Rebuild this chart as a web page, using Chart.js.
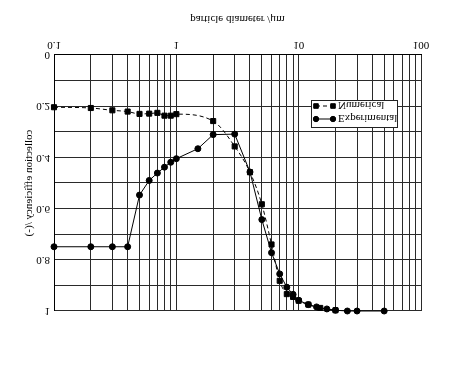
<!DOCTYPE html>
<html><head><meta charset="utf-8">
<script src="https://cdn.jsdelivr.net/npm/chart.js@4.4.0/dist/chart.umd.min.js"></script>
<style>
html,body{margin:0;padding:0;background:#fff;}
#wrap{width:474px;height:366px;overflow:hidden;}
canvas{display:block;transform:scaleY(-1);}
</style></head><body>
<div id="wrap"><canvas id="c" width="474" height="366"></canvas></div>
<script>
// ---- data ----
const numericalDiameters = [0.1, 0.2, 0.3, 0.4, 0.5, 0.6, 0.7, 0.8, 0.9, 1, 2, 3, 4, 5, 6, 7, 8, 9, 10, 12, 15, 20];
const numericalEfficiency = [0.204, 0.207, 0.216, 0.221, 0.23, 0.229, 0.226, 0.237, 0.237, 0.231, 0.258, 0.357, 0.458, 0.583, 0.74, 0.882, 0.934, 0.945, 0.96, 0.975, 0.988, 0.997];
const experimentalDiameters = [0.1, 0.2, 0.3, 0.4, 0.5, 0.6, 0.7, 0.8, 0.9, 1, 1.5, 2, 3, 4, 5, 6, 7, 8, 9, 10, 12, 14, 17, 20, 25, 30, 50];
const experimentalEfficiency = [0.749, 0.749, 0.749, 0.749, 0.547, 0.49, 0.461, 0.438, 0.419, 0.405, 0.366, 0.311, 0.309, 0.457, 0.643, 0.772, 0.855, 0.907, 0.935, 0.958, 0.975, 0.984, 0.992, 0.997, 1, 1, 1];
const xGridValues = [0.1,0.2,0.3,0.4,0.5,0.6,0.7,0.8,0.9,1,2,3,4,5,6,7,8,9,10,20,30,40,50,60,70,80,90,100];
const xLabelValues = [0.1, 1, 10, 100];
const xLabelTexts = ['0.1', '1', '10', '100'];
const yLabelTexts = ['0', '0.2', '0.4', '0.6', '0.8', '1'];
const seriesNames = ['Experimental', 'Numerical'];
const xTitle = 'particle diameter /\u03bcm';
const yTitle = 'collection efficiency /(-)';

const toPoints = (xs, ys) => xs.map((x, i) => ({x: x, y: ys[i]}));
const FONT = {family: '"Liberation Serif", "Times New Roman", serif', size: 11};

const legendPlugin = {
  id: 'boxLegend',
  afterDatasetsDraw(chart) {
    const ctx = chart.ctx, a = chart.chartArea;
    const w = 86, h = 27;
    const x = a.right - 24 - w, y = a.top + 183;
    ctx.save();
    ctx.fillStyle = '#fff';
    ctx.fillRect(x, y, w, h);
    ctx.strokeStyle = '#222';
    ctx.lineWidth = 1;
    ctx.strokeRect(Math.round(x) + 0.5, Math.round(y) + 0.5, w, h);
    const rows = [y + 9, y + 22];
    chart.data.datasets.forEach((ds, i) => {
      const cy = rows[i];
      const x1 = x + 5, x2 = x + 22;
      ctx.strokeStyle = '#000';
      ctx.lineWidth = 1;
      ctx.setLineDash(ds.borderDash || []);
      ctx.beginPath(); ctx.moveTo(x1, cy); ctx.lineTo(x2, cy); ctx.stroke();
      ctx.setLineDash([]);
      ctx.fillStyle = '#000';
      const style = {pointStyle: ds.pointStyle, radius: ds.pointRadius * 0.9, borderWidth: 1};
      Chart.helpers.drawPoint(ctx, style, x1, cy);
      Chart.helpers.drawPoint(ctx, style, x2, cy);
      ctx.fillStyle = '#000';
      ctx.font = '11px ' + FONT.family;
      ctx.textBaseline = 'middle';
      ctx.textAlign = 'left';
      ctx.fillText(ds.label, x2 + 5, cy + 1);
    });
    ctx.restore();
  }
};

new Chart(document.getElementById('c'), {
  type: 'line',
  data: {
    datasets: [
      {
        label: seriesNames[0],
        data: toPoints(experimentalDiameters, experimentalEfficiency),
        borderColor: '#000', backgroundColor: '#000', borderWidth: 1,
        pointStyle: 'circle', pointRadius: 3, pointBackgroundColor: '#000', pointBorderColor: '#000',
        tension: 0, clip: 8
      },
      {
        label: seriesNames[1],
        data: toPoints(numericalDiameters, numericalEfficiency),
        borderColor: '#000', backgroundColor: '#000', borderWidth: 1, borderDash: [4, 3],
        pointStyle: 'rect', pointRadius: 3.6, pointBackgroundColor: '#000', pointBorderColor: '#000',
        cubicInterpolationMode: 'monotone', clip: 8
      }
    ]
  },
  options: {
    responsive: false,
    animation: false,
    devicePixelRatio: 1,
    layout: {padding: {left: 0, top: 55, right: 53, bottom: 0}},
    plugins: {legend: {display: false}, tooltip: {enabled: false}},
    scales: {
      x: {
        type: 'logarithmic', min: 0.1, max: 100,
        afterBuildTicks: (s) => { s.ticks = xGridValues.map(v => ({value: v})); },
        afterFit: (s) => { s.height = 55; },
        ticks: {
          autoSkip: false, maxRotation: 0, padding: 4, color: '#000', font: FONT,
          callback: (v) => { const i = xLabelValues.findIndex(t => Math.abs(t - v) < 1e-9); return i >= 0 ? xLabelTexts[i] : ''; }
        },
        grid: {color: '#2a2a2a', lineWidth: 1, drawTicks: false},
        border: {color: '#000', width: 1},
        title: {display: true, text: xTitle, color: '#000', font: FONT, padding: {top: 0, bottom: 12}}
      },
      y: {
        type: 'linear', min: 0, max: 1,
        afterFit: (s) => { s.width = 54; },
        ticks: {
          stepSize: 0.1, padding: 4, color: '#000', font: FONT,
          callback: (v, i) => (i % 2 === 0 ? yLabelTexts[i / 2] : '')
        },
        grid: {color: '#2a2a2a', lineWidth: 1, drawTicks: false},
        border: {color: '#000', width: 1},
        title: {display: true, text: yTitle, color: '#000', font: FONT, padding: {top: 23, bottom: 0}}
      }
    }
  },
  plugins: [legendPlugin]
});
</script>
</body></html>
